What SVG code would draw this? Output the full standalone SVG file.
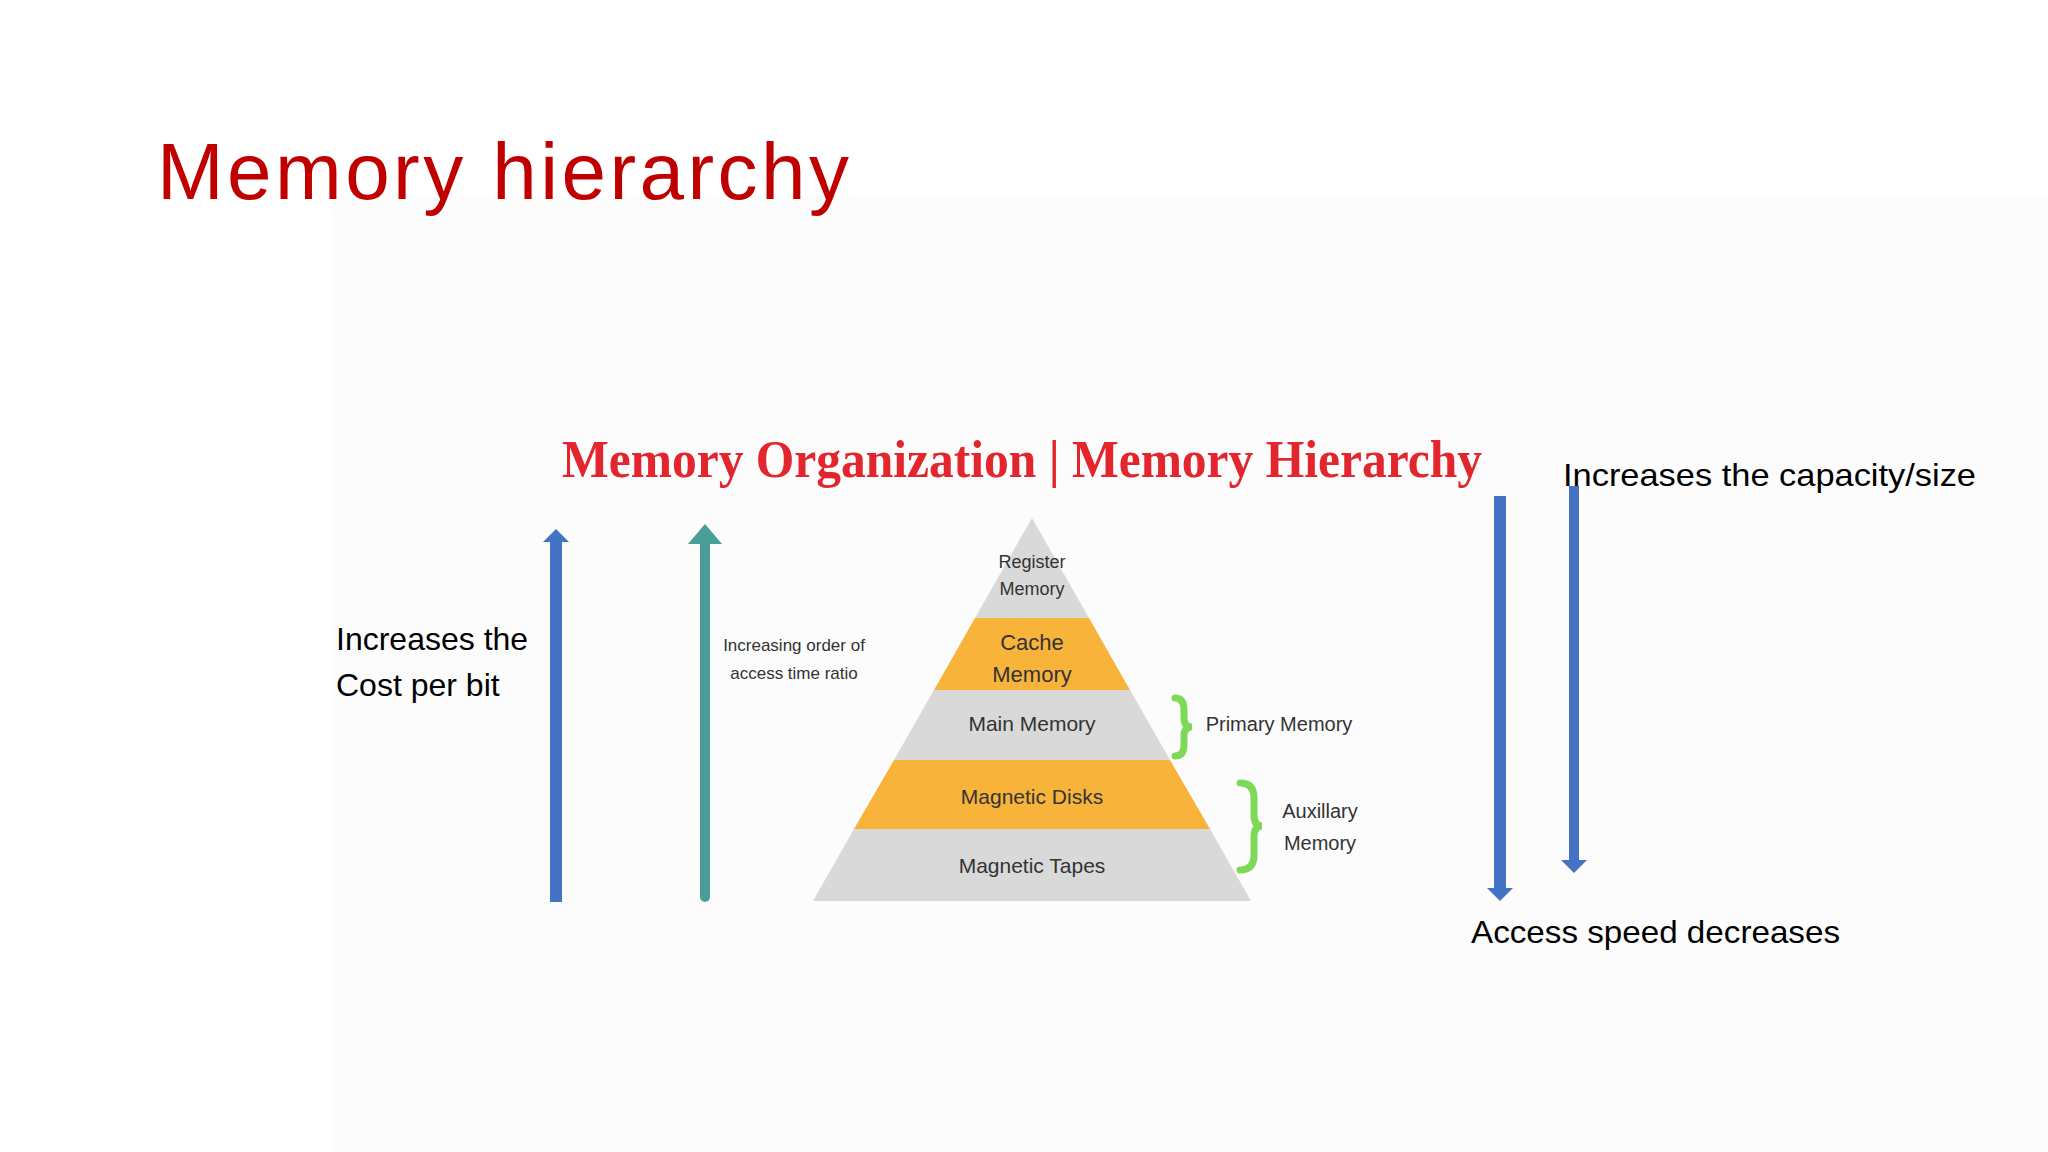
<svg xmlns="http://www.w3.org/2000/svg" width="2048" height="1152" viewBox="0 0 2048 1152">
<style>
.t{font-family:"Liberation Sans",Arial,sans-serif;fill:#000;font-size:32px}
.p{font-family:"Liberation Sans",Arial,sans-serif;fill:#333;text-anchor:middle}
.g{fill:#d9d9d9}.o{fill:#f7b33a}
.br{fill:none;stroke:#7ed957;stroke-width:7;stroke-linecap:round}
</style>
<defs>
<marker id="bh" markerWidth="26" markerHeight="26" refX="2" refY="13" orient="auto" markerUnits="userSpaceOnUse"><path d="M0,0L13,13L0,26z" fill="#4472c4"/></marker>
<marker id="th" markerWidth="24" markerHeight="34" refX="4" refY="17" orient="auto" markerUnits="userSpaceOnUse"><path d="M0,0L20,17L0,34z" fill="#4a9e98"/></marker>
</defs>
<rect width="2048" height="1152" fill="#fff"/>
<rect x="333" y="196" width="1715" height="956" fill="#fcfcfc"/>
<text x="157" y="199" font-family="Liberation Sans,Arial,sans-serif" font-size="80" fill="#c00000" textLength="692" lengthAdjust="spacing">Memory hierarchy</text>
<text x="562" y="477" font-family="Liberation Serif,serif" font-weight="bold" font-size="52" fill="#e3262d" textLength="920" lengthAdjust="spacingAndGlyphs">Memory Organization | Memory Hierarchy</text>
<g id="pyramid">
<polygon class="g" points="1032,518 1089,618 975,618"/>
<polygon class="o" points="975,618 1089,618 1130,690 934,690"/>
<polygon class="g" points="934,690 1130,690 1170,760 894,760"/>
<polygon class="o" points="894,760 1170,760 1210,829 854,829"/>
<polygon class="g" points="854,829 1210,829 1251,901 813,901"/>
<text class="p" x="1032" y="568" font-size="18">Register</text>
<text class="p" x="1032" y="595" font-size="18">Memory</text>
<text class="p" x="1032" y="650" font-size="22">Cache</text>
<text class="p" x="1032" y="682" font-size="22">Memory</text>
<text class="p" x="1032" y="731" font-size="21">Main Memory</text>
<text class="p" x="1032" y="804" font-size="21">Magnetic Disks</text>
<text class="p" x="1032" y="873" font-size="21">Magnetic Tapes</text>
</g>
<g id="braces">
<path class="br" d="M1175,698 Q1184,698 1184,710 L1184,718 Q1184,727 1192,727 Q1184,727 1184,736 L1184,745 Q1184,756 1175,756"/>
<path class="br" d="M1240,783 Q1254,783 1254,798 L1254,815 Q1254,826 1262,826 Q1254,826 1254,837 L1254,855 Q1254,870 1240,870"/>
<text class="p" x="1279" y="731" font-size="20">Primary Memory</text>
<text class="p" x="1320" y="818" font-size="20">Auxillary</text>
<text class="p" x="1320" y="850" font-size="20">Memory</text>
</g>
<g id="connectors">
<line x1="705" y1="897" x2="705" y2="540" stroke="#4a9e98" stroke-width="10" stroke-linecap="round" marker-end="url(#th)"/>
<line x1="556" y1="902" x2="556" y2="540" stroke="#4472c4" stroke-width="12" marker-end="url(#bh)"/>
<line x1="1500" y1="496" x2="1500" y2="890" stroke="#4472c4" stroke-width="12" marker-end="url(#bh)"/>
<line x1="1574" y1="486" x2="1574" y2="862" stroke="#4472c4" stroke-width="10" marker-end="url(#bh)"/>
</g>
<text class="p" x="794" y="651" font-size="17">Increasing order of</text>
<text class="p" x="794" y="679" font-size="17">access time ratio</text>
<text class="t" x="336" y="650">Increases the</text>
<text class="t" x="336" y="696">Cost per bit</text>
<text class="t" x="1563" y="486" textLength="413" lengthAdjust="spacingAndGlyphs">Increases the capacity/size</text>
<text class="t" x="1471" y="943" textLength="369" lengthAdjust="spacingAndGlyphs">Access speed decreases</text>
</svg>
